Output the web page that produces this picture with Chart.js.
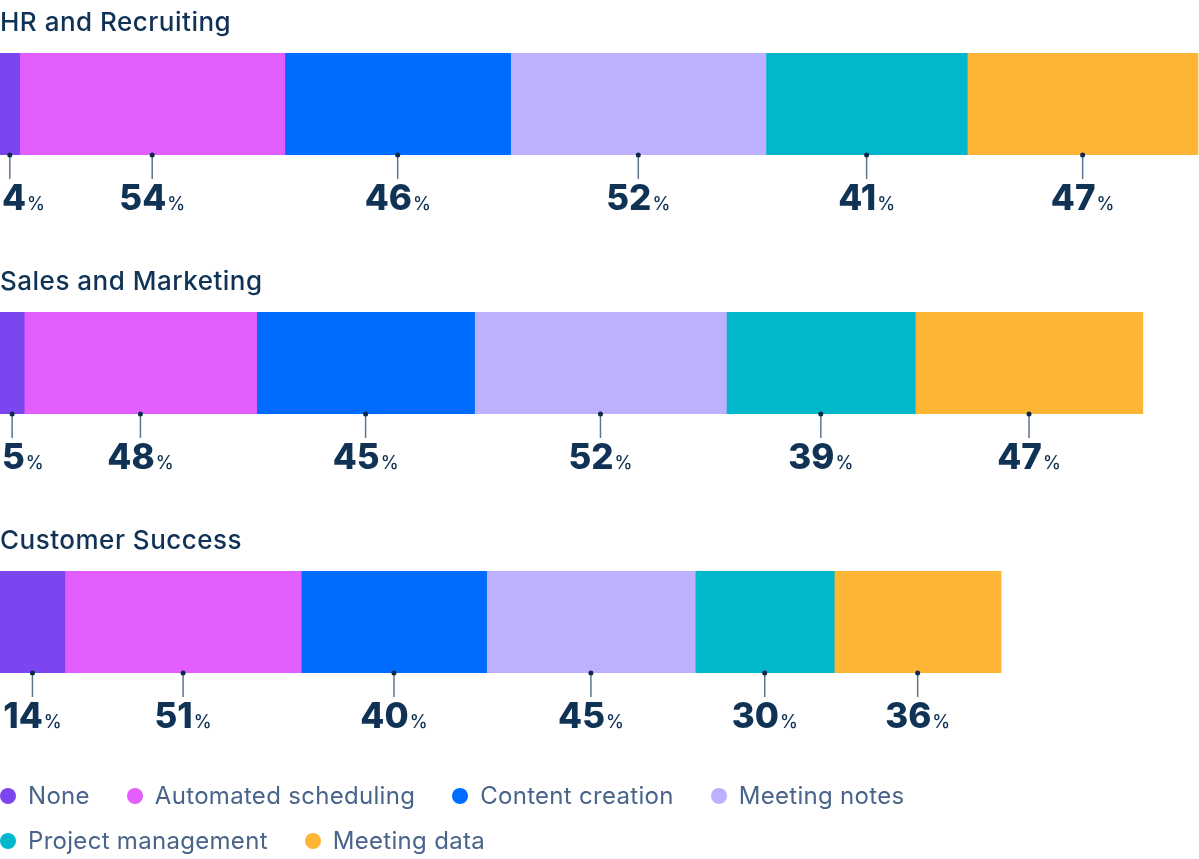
<!DOCTYPE html>
<html>
<head>
<meta charset="utf-8">
<script src="https://cdn.jsdelivr.net/npm/chart.js@4.4.1/dist/chart.umd.min.js"></script>
<style>
  html, body { margin: 0; padding: 0; background: #fff; }
  body { width: 1199px; height: 859px; position: relative; overflow: hidden; font-family: Inter, sans-serif; }
  .panel { position: absolute; left: 0; width: 1199px; height: 259px; }
  #legend { position: absolute; left: 0; top: 773px; width: 1000px; display: flex; flex-wrap: wrap; }
  .item { display: flex; align-items: center; height: 45px; margin-right: 37px; font-size: 24px; letter-spacing: 0.3px; color: #48648a; }
  .dot { width: 16px; height: 16px; border-radius: 50%; margin-right: 12px; }
</style>
</head>
<body>
<div class="panel" style="top:0"><canvas id="c0"></canvas></div>
<div class="panel" style="top:259px"><canvas id="c1"></canvas></div>
<div class="panel" style="top:518px"><canvas id="c2"></canvas></div>
<div id="legend"></div>
<script>
const groups = ["HR and Recruiting", "Sales and Marketing", "Customer Success"];
const categories = ["None", "Automated scheduling", "Content creation", "Meeting notes", "Project management", "Meeting data"];
const hrValues = [4, 54, 46, 52, 41, 47];
const salesValues = [5, 48, 45, 52, 39, 47];
const successValues = [14, 51, 40, 45, 30, 36];
const colors = ["#7b45f0", "#e25eff", "#006cff", "#bdb1ff", "#00b7cc", "#fdb535"];

const series = [hrValues, salesValues, successValues];
// x range per panel so each bar ends where it does in the design
const axisMax = [244.2, 247.6, 258.7];

const labelPlugin = {
  id: "labels",
  afterDatasetsDraw(chart) {
    const ctx = chart.ctx;
    ctx.save();
    ctx.fillStyle = "#0f3255";
    ctx.font = "500 26px Inter";
    ctx.letterSpacing = "0.5px";
    ctx.textBaseline = "alphabetic";
    ctx.fillText(chart.data.labels[0], 0, 31);
    ctx.letterSpacing = "0px";

    chart.data.datasets.forEach((ds, i) => {
      const bar = chart.getDatasetMeta(i).data[0];
      const cx = (bar.x + bar.base) / 2;
      const bottom = bar.y + bar.height / 2;

      ctx.strokeStyle = "#5d7590";
      ctx.lineWidth = 1.5;
      ctx.beginPath();
      ctx.moveTo(cx, bottom);
      ctx.lineTo(cx, bottom + 24);
      ctx.stroke();
      ctx.fillStyle = "#0d2a4a";
      ctx.beginPath();
      ctx.arc(cx, bottom, 2.5, 0, Math.PI * 2);
      ctx.fill();

      const num = String(ds.data[0]);
      ctx.font = "800 35px Inter";
      const wNum = ctx.measureText(num).width;
      ctx.font = "500 18px Inter";
      const wPct = ctx.measureText("%").width + 1;
      let left = cx - (wNum + wPct) / 2;
      if (left < 2) left = 2;
      ctx.fillStyle = "#0f3255";
      ctx.font = "800 35px Inter";
      ctx.fillText(num, left, 210);
      ctx.font = "500 18px Inter";
      ctx.fillText("%", left + wNum + 1, 210);
    });
    ctx.restore();
  }
};

series.forEach((values, p) => {
  new Chart(document.getElementById("c" + p), {
    type: "bar",
    data: {
      labels: [groups[p]],
      datasets: categories.map((name, i) => ({
        label: name,
        data: [values[i]],
        backgroundColor: colors[i],
        borderWidth: 0,
        barPercentage: 1,
        categoryPercentage: 1,
      })),
    },
    options: {
      indexAxis: "y",
      responsive: true,
      maintainAspectRatio: false,
      animation: false,
      layout: { padding: { top: 53, bottom: 104, left: 0, right: 0 } },
      scales: {
        x: { stacked: true, min: 0, max: axisMax[p], display: false },
        y: { stacked: true, display: false },
      },
      plugins: {
        legend: { display: false },
        tooltip: { enabled: false },
      },
    },
    plugins: [labelPlugin],
  });
});

const legend = document.getElementById("legend");
categories.forEach((name, i) => {
  const item = document.createElement("div");
  item.className = "item";
  item.innerHTML = '<span class="dot" style="background:' + colors[i] + '"></span>' + name;
  legend.appendChild(item);
});
</script>
</body>
</html>
